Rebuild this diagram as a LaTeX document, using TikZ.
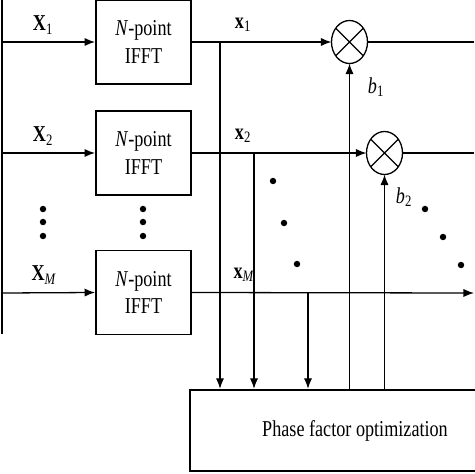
\documentclass[tikz,border=0pt]{standalone}
\usepackage{fontspec}
\setmainfont{Liberation Serif}
\usetikzlibrary{shapes.geometric,arrows.meta}

\begin{document}
\begin{tikzpicture}[x=0.03cm,y=-0.03cm,line width=1.1pt,
  >={Latex[length=9pt,width=7pt]},
  font=\fontsize{15.5}{19}\selectfont,
  tall/.style={yscale=1.25},
  ifftbox/.style={draw,tall,line width=1.6pt,minimum width=2.85cm,minimum height=2.016cm,align=center,inner sep=0pt},
  mixer/.style={draw,ellipse,line width=1.1pt,minimum width=1.08cm,minimum height=1.29cm,inner sep=0pt,outer sep=0pt},
  dotmark/.style={fill,circle,inner sep=0pt,minimum size=5.5pt},
  optbox/.style={draw,tall,line width=1.6pt,minimum width=9.9cm,minimum height=1.944cm}]
\useasboundingbox (0,0) rectangle (474,474);

% Input bus
\draw[line width=1.7pt] (2,0) -- (2,334);
\coordinate (in1) at (2,42);
\coordinate (in2) at (2,153);
\coordinate (inM) at (2,293);

% IFFT blocks
\node[ifftbox] (ifft1) at (143.5,42) {\textit{N}-point\\IFFT};
\node[ifftbox] (ifft2) at (143.5,153) {\textit{N}-point\\IFFT};
\node[ifftbox] (ifftM) at (143.5,292.5) {\textit{N}-point\\IFFT};

% Multipliers
\node[mixer] (m1) at (349.5,42) {};
\node[mixer] (m2) at (384.5,153) {};
\draw (m1.45) -- (m1.225) (m1.135) -- (m1.-45);
\draw (m2.45) -- (m2.225) (m2.135) -- (m2.-45);

% Phase factor optimization
\node[optbox] (opt) at (355,430.5) {Phase factor optimization};

% Outputs
\coordinate (out1) at (474,42);
\coordinate (out2) at (474,153);
\coordinate (outM) at (474,293);

% Taps
\coordinate (t1) at (220,42);
\coordinate (t2) at (254,153);
\coordinate (tM) at (308,293);

% Arrows
\draw[->] (in1) -- (ifft1.west);
\draw[->] (in2) -- (ifft2.west);
\draw[->] (inM) -- (ifftM.west);
\draw[->] (ifft1.east) -- (m1.west);
\draw[->] (ifft2.east) -- (m2.west);
\draw[->] (ifftM.east) -- (outM);
\draw (m1.east) -- (out1);
\draw (m2.east) -- (out2);
\draw[->] (t1) -- (t1 |- opt.north);
\draw[->] (t2) -- (t2 |- opt.north);
\draw[->] (tM) -- (tM |- opt.north);
\draw[->] (m1 |- opt.north) -- (m1.south);
\draw[->] (m2 |- opt.north) -- (m2.south);

% Labels
\node[tall] (lX1) at (43,25) {\textbf{X}\textsubscript{1}};
\node[tall] (lX2) at (43,136) {\textbf{X}\textsubscript{2}};
\node[tall] (lXM) at (44,275) {\textbf{X}\textsubscript{\textit{M}}};
\node[tall] (lx1) at (243,25) {\textbf{x}\textsubscript{1}};
\node[tall] (lx2) at (243,136) {\textbf{x}\textsubscript{2}};
\node[tall] (lxM) at (244,275) {\textbf{x}\textsubscript{\textit{M}}};
\node[tall] (lb1) at (376,87) {\textit{b}\textsubscript{1}};
\node[tall] (lb2) at (404,197) {\textit{b}\textsubscript{2}};

% Dots
\foreach \y in {209,222,236} {
  \node[dotmark] at (43,\y) {};
  \node[dotmark] at (143,\y) {};
}
\node[dotmark] at (273,181) {};
\node[dotmark] at (284,223) {};
\node[dotmark] at (297,264) {};
\node[dotmark] at (425,209) {};
\node[dotmark] at (443,237) {};
\node[dotmark] at (461,265) {};
\end{tikzpicture}
\end{document}
